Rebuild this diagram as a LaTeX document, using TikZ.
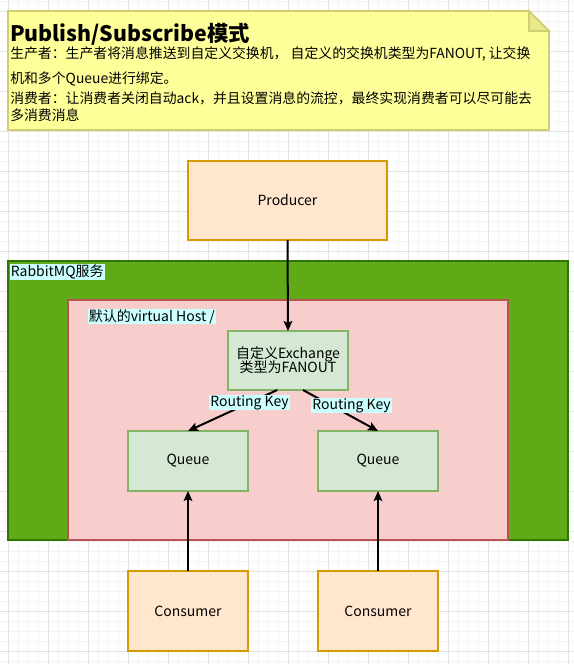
\documentclass[tikz,border=0pt]{standalone}
\usepackage{fontspec}
\setmainfont{Noto Sans CJK SC}
\usetikzlibrary{arrows.meta,calc}
\definecolor{gridmin}{HTML}{F4F4F4}
\definecolor{gridmaj}{HTML}{E2E2E2}
\definecolor{notefill}{HTML}{FFFF99}
\definecolor{notedraw}{HTML}{CFCF6E}
\definecolor{notefold}{HTML}{E8E88A}
\definecolor{orfill}{HTML}{FFE6CC}
\definecolor{ordraw}{HTML}{D79B00}
\definecolor{gfill}{HTML}{60A917}
\definecolor{gdraw}{HTML}{2D7600}
\definecolor{rfill}{HTML}{F8CECC}
\definecolor{rdraw}{HTML}{B85450}
\definecolor{lgfill}{HTML}{D5E8D4}
\definecolor{lgdraw}{HTML}{82B366}
\definecolor{lblbg}{HTML}{CCFFFF}
\tikzset{
  box/.style={draw, line width=1.2pt, inner sep=0pt, outer sep=0pt, align=center,
    font=\fontsize{10.5}{13}\selectfont},
  orangebox/.style={box, fill=orfill, draw=ordraw},
  greenbox/.style={box, fill=lgfill, draw=lgdraw},
  lbl/.style={fill=lblbg, inner sep=0.6pt, outer sep=0pt, font=\fontsize{10.5}{12}\selectfont},
  notetext/.style={inner sep=0pt, anchor=base west, font=\fontsize{10.4}{12}\selectfont},
  arr/.style={line width=1.5pt, -{Stealth[length=7.5pt,width=6.5pt,inset=1.5pt]}},
}
\begin{document}
\begin{tikzpicture}[x=0.75pt,y=-0.75pt]
\useasboundingbox (0,0) rectangle (574,664);
\fill[white] (0,0) rectangle (574,664);
% grid
\foreach \x in {8,18,...,568} \draw[gridmin, line width=0.75pt] (\x,0) -- (\x,664);
\foreach \y in {1,11,...,661} \draw[gridmin, line width=0.75pt] (0,\y) -- (574,\y);
\foreach \x in {8,48,...,568} \draw[gridmaj, line width=0.75pt] (\x,0) -- (\x,664);
\foreach \y in {11,51,...,651} \draw[gridmaj, line width=0.75pt] (0,\y) -- (574,\y);
% note
\draw[fill=notefill, draw=notedraw, line width=1.2pt, line join=miter]
  (8,11) -- (529,11) -- (549,31) -- (549,130) -- (8,130) -- cycle;
\draw[fill=notefold, draw=notedraw, line width=1.2pt]
  (529,11) -- (529,31) -- (549,31) -- cycle;
\node[notetext, font=\fontsize{16}{18}\selectfont\bfseries] (title) at (10,41) {Publish/Subscribe模式};
\node[notetext] (l1) at (10,58.5) {生产者：生产者将消息推送到自定义交换机， 自定义的交换机类型为FANOUT, 让交换};
\node[notetext] (l2) at (10,83.5) {机和多个Queue进行绑定。};
\node[notetext] (l3) at (10,103.5) {消费者：让消费者关闭自动ack，并且设置消息的流控，最终实现消费者可以尽可能去};
\node[notetext] (l4) at (10,120.5) {多消费消息};
% containers
\node[draw=gdraw, fill=gfill, line width=1.2pt, minimum width=420pt, minimum height=209.25pt, inner sep=0pt] (rabbit) at (288,400.5) {};
\node[draw=rdraw, fill=rfill, line width=1.2pt, minimum width=330pt, minimum height=180pt, inner sep=0pt] (vhost) at (288,420) {};
\node[lbl, anchor=north west] (rlbl) at (10,264) {RabbitMQ服务};
\node[lbl, anchor=north west] (vlbl) at (88,308.5) {默认的virtual Host /};
% nodes
\node[orangebox, minimum width=149.25pt, minimum height=59.25pt] (producer) at (287.5,200.5) {Producer};
\node[greenbox, minimum width=90pt, minimum height=44.25pt] (ex) at (288,360.5) {自定义Exchange\\[-2.5pt]类型为FANOUT};
\node[greenbox, minimum width=90pt, minimum height=45pt] (q1) at (188,461) {Queue};
\node[greenbox, minimum width=90pt, minimum height=45pt] (q2) at (378,461) {Queue};
\node[orangebox, minimum width=90pt, minimum height=60pt] (c1) at (188,611) {Consumer};
\node[orangebox, minimum width=90pt, minimum height=60pt] (c2) at (378,611) {Consumer};
% edges
\draw[arr] (producer.south) -- (ex.north);
\draw[arr] ($(ex.south west)!0.41!(ex.south east)$) -- (q1.north);
\draw[arr] ($(ex.south west)!0.625!(ex.south east)$) -- (q2.north);
\draw[arr] (c1.north) -- (q1.south);
\draw[arr] (c2.north) -- (q2.south);
\node[lbl] (rk1) at (249.5,402.5) {Routing Key};
\node[lbl] (rk2) at (351.5,405.5) {Routing Key};
\end{tikzpicture}
\end{document}
